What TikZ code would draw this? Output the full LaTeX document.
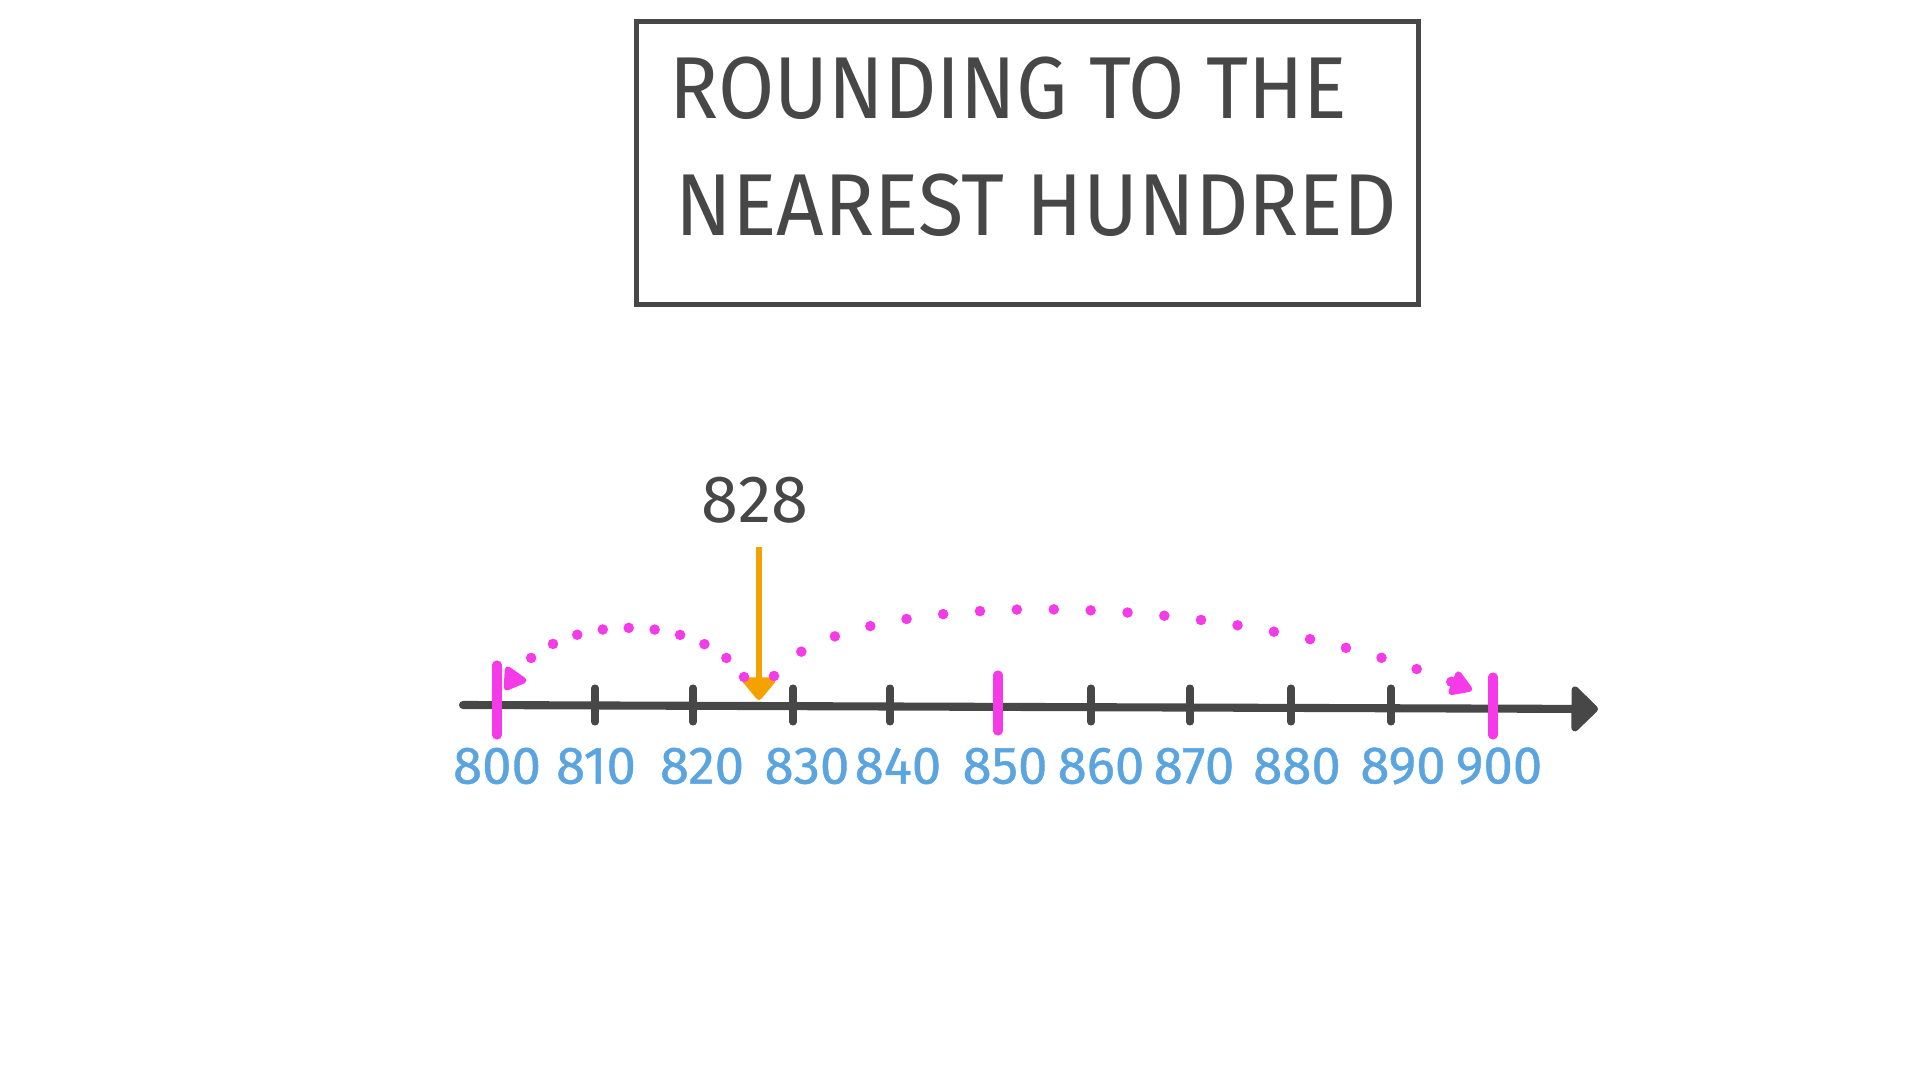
\documentclass[tikz,border=0pt]{standalone}
\usepackage{fontspec}
\setmainfont{Fira Sans}
\newfontfamily\lblfont[FakeBold=0.8]{Fira Sans}
\usetikzlibrary{arrows.meta}
\definecolor{ink}{HTML}{474747}
\definecolor{mag}{HTML}{F53BE8}
\definecolor{org}{HTML}{F5A200}
\definecolor{lblue}{HTML}{5AA4E0}
\tikzset{
  axisline/.style={ink, line width=2.3pt, line cap=round},
  graytick/.style={ink, line width=2pt, line cap=round},
  magtick/.style={mag, line width=2.6pt, line cap=round},
  numlabel/.style={lblue, font=\lblfont\fontsize{15}{15}\selectfont, inner sep=0pt},
  titletext/.style={ink, font=\fontsize{25}{25}\selectfont, anchor=base west, inner sep=0pt},
  dots/.style={mag, line width=3pt, line cap=round},
}
\begin{document}
\begin{tikzpicture}[x=0.01cm,y=-0.01cm]
\useasboundingbox (0,0) rectangle (1920,1080);
% title box
\node[draw=ink, line width=1.4pt, minimum width=7.81cm, minimum height=2.82cm, inner sep=0pt] (box) at (1027.5,163) {};
\node[titletext] (t1) at (669,119) {\scalebox{0.926}[1]{ROUNDING TO THE}};
\node[titletext] (t2) at (675,236) {\scalebox{0.945}[1]{NEAREST HUNDRED}};
% axis
\coordinate (a0) at (463,705);
\coordinate (a1) at (1598,709);
\draw[axisline, -{Triangle[length=8pt,width=15pt,round]}] (a0) -- (a1);
% gray ticks
\foreach \x/\n in {595/810,693/820,793/830,890/840,1091/860,1190/870,1291/880,1391/890}{
  \draw[graytick] (\x,688) -- (\x,722);
}
% magenta ticks
\coordinate (m800t) at (497,665); \coordinate (m800b) at (497,735);
\coordinate (m850t) at (998,675); \coordinate (m850b) at (998,731);
\coordinate (m900t) at (1493,677); \coordinate (m900b) at (1493,735);
\draw[magtick] (m800t) -- (m800b);
\draw[magtick] (m850t) -- (m850b);
\draw[magtick] (m900t) -- (m900b);
% labels
\foreach \x/\n in {497/800,596/810,702/820,807/830,898/840,1005/850,1101/860,1194/870,1297/880,1403/890,1499/900}{
  \node[numlabel] (l\n) at (\x,766) {\n};
}
% 828
\node[ink, font=\fontsize{19}{19}\selectfont, inner sep=0pt] (n828) at (755,500) {828};
\coordinate (otop) at (759,547);
\coordinate (obot) at (759,700);
\draw[org, line width=1.8pt, -{Triangle[length=7pt,width=11pt,round]}] (otop) -- (obot);
% dotted arcs
\coordinate (ls) at (744,677);
\coordinate (le) at (505,690);
\coordinate (rs) at (774,676);
\coordinate (re) at (1472,690);
\draw[dots, dash pattern=on 0pt off 7.4pt, -{Triangle[length=7pt,width=8pt,round]}] (ls) .. controls (700,612) and (560,612) .. (le);
\draw[dots, dash pattern=on 0pt off 10.5pt, -{Triangle[length=7pt,width=8pt,round]}] (rs) .. controls (830,590) and (1200,582) .. (re);
\end{tikzpicture}
\end{document}
